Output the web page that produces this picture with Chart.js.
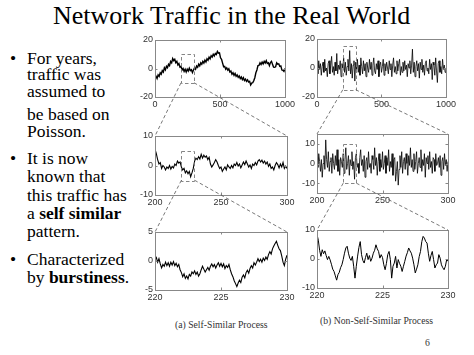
<!DOCTYPE html>
<html><head><meta charset="utf-8">
<script src="https://cdn.jsdelivr.net/npm/chart.js@4.4.0/dist/chart.umd.min.js"></script>
<style>
html,body{margin:0;padding:0;background:#fff;}
body{width:474px;height:355px;position:relative;overflow:hidden;font-family:"Liberation Serif","Times New Roman",Times,"DejaVu Serif","Noto Serif",serif;color:#000;}
.t{position:absolute;white-space:nowrap;line-height:1;font-family:"Liberation Serif","Times New Roman",Times,"DejaVu Serif","Noto Serif",serif;}
.b{font-size:17.5px;}
.cap{font-size:9.7px;color:#333;}
canvas.c{position:absolute;}
#ov{position:absolute;left:0;top:0;pointer-events:none;}
</style></head><body>
<div class="t" style="font-size:26px;left:53px;top:3.2px;">Network Traffic in the Real World</div>
<div class="t b" style="left:10px;top:49.6px;">•</div>
<div class="t b" style="left:27px;top:49.6px;">For years,</div>
<div class="t b" style="left:27px;top:66.3px;">traffic was</div>
<div class="t b" style="left:27px;top:83px;">assumed to</div>
<div class="t b" style="left:27px;top:106.3px;">be based on</div>
<div class="t b" style="left:27px;top:123px;">Poisson.</div>
<div class="t b" style="left:10px;top:150.3px;">•</div>
<div class="t b" style="left:27px;top:150.3px;">It is now</div>
<div class="t b" style="left:27px;top:168.3px;">known that</div>
<div class="t b" style="left:27px;top:187.3px;">this traffic has</div>
<div class="t b" style="left:27px;top:205.3px;">a <b>self similar</b></div>
<div class="t b" style="left:27px;top:223.3px;">pattern.</div>
<div class="t b" style="left:10px;top:251.3px;">•</div>
<div class="t b" style="left:27px;top:251.3px;">Characterized</div>
<div class="t b" style="left:27px;top:269px;">by <b>burstiness</b>.</div>
<div class="t cap" style="left:175px;top:319.5px;">(a) Self-Similar Process</div>
<div class="t cap" style="left:320px;top:315.5px;">(b) Non-Self-Similar Process</div>
<div class="t cap" style="left:425px;top:338px;">6</div>

<canvas id="cA" class="c"></canvas>
<canvas id="cB" class="c"></canvas>
<canvas id="cC" class="c"></canvas>
<canvas id="cD" class="c"></canvas>
<canvas id="cE" class="c"></canvas>
<canvas id="cF" class="c"></canvas>
<canvas id="ov" width="474" height="355"></canvas>

<script>
// ---------- DATA ----------
// (a) self-similar process, t = 0..1000
const rangeA = [0, 1000];
const seriesA = [-7,-5.5,-7,-4.5,-5.5,-3,-4,-1.5,-2.5,0.5,-1,1.5,0.5,3,2,5,4,7,5.5,6.5,
4,5,2.5,3.5,1,1.5,-1,0,-2,-0.5,-2.5,-0.5,-1.8,0.2,-1.5,-0.8,-2.8,-1,0.5,-0.5,
1.8,0.8,3,1.8,4,3,5,3.8,5.8,4.5,6.8,5.8,8,6.8,9,8,10,8.8,10.5,9.8,
12,10.8,11,7.5,6.5,3.8,1.2,1.5,-0.5,0.5,-1.2,-0.2,-2.5,-1.8,-4,-3,-4.8,-3.5,-5.5,-4.5,
-6.2,-5.2,-7,-6,-7.8,-6.5,-8.5,-7.5,-9,-8,-9.5,-9,-11.5,-10.2,-10,-8.5,-6.5,-3,-1,2,
2.2,4,2.8,4.5,3.2,5,3.8,5.5,3.5,4,2,4.2,5,3,1,0.8,1.2,4,3,3.2,
1.5,1.8,-1,-1.2,-2,0];
const xTicksA = [0, 500, 1000];
const yTicksA = [-20, 0, 20];
const yRangeA = [-20, 20];
const zoomA = [200, 300, -10, 10];

// t = 200..300
const rangeB = [200, 300];
const seriesB = [5.5,4,2,0.5,1,-1,0,-0.5,-1.5,-0.5,-1,0,-1.2,-0.3,-0.8,0.5,0,1.5,0.8,1.2,
-0.5,-1.5,-1,-2.5,-1.8,-2.8,-2,-3.8,-2.5,-1,1.5,2.5,2,3,2.2,3.8,2.5,3.5,2.8,3.2,
2,2.8,0.5,-0.5,0.2,1,2,1.2,0,-1,-0.5,-2,-1.2,-0.5,-1.5,0.2,-0.5,-1,0,-0.8,
0.5,0,1,-0.2,0.5,-0.8,0.2,1.2,0.3,1.5,0.5,-0.5,0.2,-1,0.5,0,1,0.2,1.5,2,
1.2,1.8,0.8,1.5,0.5,1.2,-0.3,0.5,-1,-0.5,-1.5,0,1,0.3,-0.8,0.5,-0.5,1,-1,-0.2,-1];
const xTicksB = [200, 250, 300];
const yTicksB = [-10, 0, 10];
const yRangeB = [-10, 10];
const zoomB = [220, 230, -5, 5];

// t = 220..230
const rangeC = [220, 230];
const seriesC = [0.3,0.6,-0.2,0.4,-0.5,-1.2,-0.6,-0.9,-0.2,-0.8,-0.3,-0.9,-0.2,-0.7,-0.1,-0.8,-0.4,-1,-0.6,-1.5,
-2,-2.7,-2.2,-3,-2.6,-3.1,-2.3,-2.6,-1.9,-2.2,-1.7,-2.3,-1.9,-2.6,-2.2,-1.5,-0.9,-1.4,-1.9,-1.5,
-1.1,-1.6,-0.9,-0.5,-1,-0.6,-1.2,-0.7,-0.3,-0.9,-0.4,-1,-0.5,-1.3,-0.8,-1.1,-0.6,-1.5,-2.2,-2.7,
-3.4,-3.9,-4.4,-3.8,-3.3,-3.7,-2.8,-2.4,-2.9,-2,-1.6,-2.1,-1.3,-0.8,-1.2,-0.3,-0.7,-0.2,0.4,-0.1,
0.3,-0.2,0.5,0.1,0.7,0.3,1.1,1.6,1.2,2.1,2.6,3,3.4,2.7,2.1,1.8,0.9,-0.2,-0.8,0.3,1];
const xTicksC = [220, 225, 230];
const yTicksC = [-5, 0, 5];
const yRangeC = [-5, 5];

// (b) non-self-similar process, t = 0..1000
const rangeD = [0, 1000];
const seriesD = [2,-4,5,-1,3,-5,1,4,-3,6,-2,0,-6,3,5,-4,2,8,-3,1,
-5,4,-2,10,-4,2,-1,5,-6,3,0,7,-3,4,-5,1,6,-2,12,-4,
3,-7,2,5,-9,4,-1,6,-3,2,-5,7,1,-4,5,-2,3,-6,4,0,
-3,6,-1,4,-5,2,7,-2,-4,3,-1,5,-6,2,4,-3,1,6,-5,3,
-2,4,0,-4,5,-1,3,-6,2,7,-3,1,-4,5,-2,3,6,-5,1,-3,
4,-2,5,-1,2,-6,3,0,5,-4,2,13,-3,4,-6,1,5,-2,3,-7,
4,-1,6,-3,2,-5,3,5,-2,0,-4,6,-1,3,-8,4,2,-5,7,-2,
-10,3,5,-3,1,-4,6,-1,2,-3,0];
const xTicksD = [0, 500, 1000];
const yTicksD = [-20, 0, 20];
const yRangeD = [-20, 20];
const zoomD = [200, 300, -15, 15];

// t = 200..300
const rangeE = [200, 300];
const seriesE = [3,-2,5,1,-4,2,-7,0,4,-3,12,2,-2,6,-4,1,3,-5,5,0,
-3,4,-1,7,-4,2,-6,3,1,-2,5,-5,2,8,-3,0,4,-6,2,-1,
6,-3,1,-8,3,5,-2,0,-5,3,7,-1,2,-4,4,-7,1,3,-3,6,
-2,0,-5,4,2,-3,8,-1,3,-6,1,5,-4,2,-2,6,-3,0,4,-5,
3,-1,7,-4,1,-2,5,-6,2,3,-9,-4,1,-11,-3,4,-2,6,-5,1,
3,-3,5,0,-6,4,-1,8,-2,2,-4,5,-3,1,6,-5,0,3,-2,7,
-4,2,-1,5,-7,3,0,4,-3,6,-2,1,-5,3,2,-4,5,-1,0,3,
-2,4,-6,1,3,-3,5,-1,2,-4,1];
const xTicksE = [200, 250, 300];
const yTicksE = [-10, 0, 10];
const yRangeE = [-15, 15];
const zoomE = [220, 230, -10, 10];

// t = 220..230
const rangeF = [220, 230];
const seriesF = [8.5,6.5,3,0.9,3.2,1.8,2.8,1.2,-0.2,0.9,-0.3,-1.8,-3.5,-4.3,-5.8,-7.3,-5.4,-4.6,-3,-2,
-0.2,2,3.8,4.4,2,0.3,-0.5,0.9,-2.5,-6.6,-2.5,1,4,6,1.5,-0.5,-1.4,0.5,2,-0.2,
1.2,-0.8,0.3,2,3,4.9,3.5,2.6,0.3,1.5,0.5,-2,-3.7,-1.5,1.5,2.6,-0.2,-6.6,-2.5,-1.4,
0.9,-3.1,-0.2,-1.5,-2.5,-4.3,-2.5,-0.8,1,2.2,3.8,2.8,2,0.3,-2,-4.8,-3.5,-2,0.8,2.6,
6,7.8,7.2,6,5.5,2,-0.8,1.2,2.6,-0.2,-3.1,-2,-1.4,1.5,0.3,-2,-3,-3.7,-2.5,-0.2,-0.8];
const xTicksF = [220, 225, 230];
const yTicksF = [-10, 0, 10];
const yRangeF = [-10, 10];

// ---------- LAYOUT ----------
const PADL = 25, PADT = 8, PADR = 10, PADB = 18;
function place(id, L, T, R, B) {
  const c = document.getElementById(id);
  const w = (R - L) + PADL + PADR, h = (B - T) + PADT + PADB;
  c.width = w; c.height = h;
  c.style.width = w + 'px'; c.style.height = h + 'px';
  c.style.left = (L - PADL) + 'px'; c.style.top = (T - PADT) + 'px';
  return c;
}

const boxPlugin = {
  id: 'matbox',
  afterDatasetsDraw(chart, args, opts) {
    const ctx = chart.ctx, a = chart.chartArea;
    const xs = chart.scales.x, ys = chart.scales.y;
    ctx.save();
    if (opts.zoom) {
      const z = opts.zoom;
      const x1 = xs.getPixelForValue(z[0]), x2 = xs.getPixelForValue(z[1]);
      const y1 = ys.getPixelForValue(z[3]), y2 = ys.getPixelForValue(z[2]);
      ctx.setLineDash([3.5, 2.5]);
      ctx.strokeStyle = '#777';
      ctx.lineWidth = 0.9;
      ctx.strokeRect(Math.round(x1) + 0.5, Math.round(y1) + 0.5, Math.round(x2 - x1), Math.round(y2 - y1));
      ctx.setLineDash([]);
    }
    ctx.strokeStyle = '#888';
    ctx.lineWidth = 1;
    ctx.strokeRect(Math.round(a.left) + 0.5, Math.round(a.top) + 0.5, Math.round(a.right - a.left), Math.round(a.bottom - a.top));
    ctx.beginPath();
    xs.ticks.forEach(t => {
      const px = Math.round(xs.getPixelForValue(t.value)) + 0.5;
      ctx.moveTo(px, a.bottom); ctx.lineTo(px, a.bottom - 2.5);
      ctx.moveTo(px, a.top); ctx.lineTo(px, a.top + 2.5);
    });
    ys.ticks.forEach(t => {
      const py = Math.round(ys.getPixelForValue(t.value)) + 0.5;
      ctx.moveTo(a.left, py); ctx.lineTo(a.left + 2.5, py);
      ctx.moveTo(a.right, py); ctx.lineTo(a.right - 2.5, py);
    });
    ctx.stroke();
    ctx.restore();
  }
};

function makeChart(id, area, range, series, xTicks, yTicks, yRange, zoom, lw) {
  const c = place(id, area[0], area[1], area[2], area[3]);
  const n = series.length;
  const pts = series.map((v, i) => ({ x: range[0] + i * (range[1] - range[0]) / (n - 1), y: v }));
  const tickFont = { family: '"Liberation Sans", Arial, sans-serif', size: 9 };
  const fmt = v => String(v);
  return new Chart(c, {
    type: 'line',
    data: { datasets: [{ data: pts, borderColor: '#000', borderWidth: lw, pointRadius: 0, tension: 0, fill: false }] },
    options: {
      responsive: false, animation: false, parsing: false,
      layout: { padding: { left: 0, top: PADT, right: PADR, bottom: 0 } },
      plugins: { legend: { display: false }, tooltip: { enabled: false }, matbox: { zoom: zoom } },
      scales: {
        x: {
          type: 'linear', min: range[0], max: range[1],
          grid: { display: false, drawTicks: false }, border: { display: false },
          ticks: { font: tickFont, color: '#333', padding: 2, maxRotation: 0, autoSkip: false, callback: fmt },
          afterBuildTicks: s => { s.ticks = xTicks.map(v => ({ value: v })); },
          afterFit: s => { s.height = PADB; }
        },
        y: {
          type: 'linear', min: yRange[0], max: yRange[1],
          grid: { display: false, drawTicks: false }, border: { display: false },
          ticks: { font: tickFont, color: '#333', padding: 2, autoSkip: false, callback: fmt },
          afterBuildTicks: s => { s.ticks = yTicks.map(v => ({ value: v })); },
          afterFit: s => { s.width = PADL; }
        }
      }
    },
    plugins: [boxPlugin]
  });
}

const chA = makeChart('cA', [155, 40, 287, 97], rangeA, seriesA, xTicksA, yTicksA, yRangeA, zoomA, 1.4);
const chB = makeChart('cB', [155, 136, 287, 195], rangeB, seriesB, xTicksB, yTicksB, yRangeB, zoomB, 1.1);
const chC = makeChart('cC', [155, 232, 287, 290], rangeC, seriesC, xTicksC, yTicksC, yRangeC, null, 1.1);
const chD = makeChart('cD', [317, 39, 448, 97], rangeD, seriesD, xTicksD, yTicksD, yRangeD, zoomD, 0.8);
const chE = makeChart('cE', [317, 134, 448, 193], rangeE, seriesE, xTicksE, yTicksE, yRangeE, zoomE, 0.8);
const chF = makeChart('cF', [317, 230, 448, 288], rangeF, seriesF, xTicksF, yTicksF, yRangeF, null, 1);

// ---------- CONNECTORS ----------
const ov = document.getElementById('ov').getContext('2d');
function connect(src, zoom, dst) {
  const sx = src.scales.x, sy = src.scales.y;
  const so = { x: src.canvas.offsetLeft, y: src.canvas.offsetTop };
  const dof = { x: dst.canvas.offsetLeft, y: dst.canvas.offsetTop };
  const a = dst.chartArea;
  const by = so.y + sy.getPixelForValue(zoom[2]);
  ov.beginPath();
  ov.moveTo(so.x + sx.getPixelForValue(zoom[0]), by);
  ov.lineTo(dof.x + a.left, dof.y + a.top);
  ov.moveTo(so.x + sx.getPixelForValue(zoom[1]), by);
  ov.lineTo(dof.x + a.right, dof.y + a.top);
  ov.stroke();
}
ov.save();
ov.setLineDash([3.5, 2.5]);
ov.strokeStyle = '#555';
ov.lineWidth = 0.8;
connect(chA, zoomA, chB);
connect(chB, zoomB, chC);
connect(chD, zoomD, chE);
connect(chE, zoomE, chF);
ov.restore();
</script>
</body></html>
